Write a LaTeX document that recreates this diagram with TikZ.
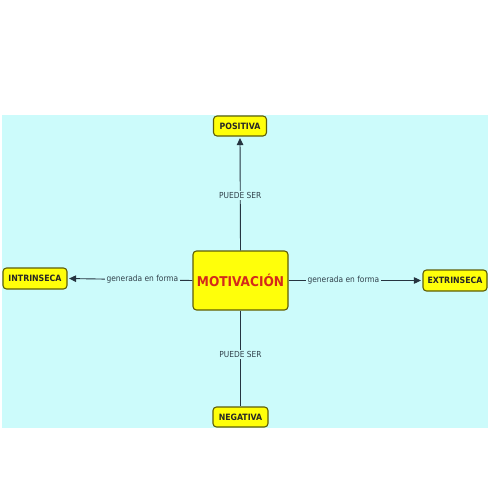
\documentclass[tikz,border=0pt]{standalone}
\usepackage{fontspec}
\setmainfont{DejaVu Sans Condensed}
\usetikzlibrary{arrows.meta}
\definecolor{bgcyan}{HTML}{CCFBFB}
\definecolor{nodeyellow}{HTML}{FFFF0A}
\definecolor{nodeborder}{HTML}{5E5E08}
\definecolor{linecol}{HTML}{263440}
\definecolor{lblcol}{HTML}{30404A}
\definecolor{redtxt}{HTML}{D42A1A}
\tikzset{
  concept/.style={draw=nodeborder, fill=nodeyellow, line width=1.1pt, rounded corners=3.5pt,
    inner sep=0pt, text=black!85, font=\bfseries\fontsize{8.7}{10}\selectfont},
  link/.style={draw=linecol, line width=0.9pt},
  arr/.style={link, -{Triangle[length=7pt,width=6.5pt]}, shorten >=1.5pt},
  lbl/.style={fill=bgcyan, inner sep=1.5pt, text=lblcol, font=\fontsize{8.3}{9}\selectfont}
}
\begin{document}
\begin{tikzpicture}[x=1pt,y=-1pt]
\useasboundingbox (0,0) rectangle (495,495);
\fill[white] (0,0) rectangle (495,495);
\fill[bgcyan] (2,115) rectangle (488,428);
\node[concept, minimum width=53pt, minimum height=20pt] (pos) at (240,126) {POSITIVA};
\node[concept, minimum width=55pt, minimum height=20pt] (neg) at (240.5,417) {NEGATIVA};
\node[concept, minimum width=64pt, minimum height=21pt] (int) at (35,278.5) {INTRINSECA};
\node[concept, minimum width=64pt, minimum height=21pt] (ext) at (455,280.5) {EXTRINSECA};
\node[concept, minimum width=95pt, minimum height=59pt, text=redtxt,
  font=\bfseries\fontsize{13.5}{15}\selectfont] (mot) at (240.5,280.5) {MOTIVACIÓN};
\draw[arr] (mot.north) -- node[lbl, pos=0.48] {PUEDE SER} (pos.south);
\draw[link] (mot.south) -- node[lbl, pos=0.46] {PUEDE SER} (neg.north);
\draw[arr] (mot.west) -- node[lbl, pos=0.4] {generada en forma} (int.east);
\draw[arr] (mot.east) -- node[lbl, pos=0.41] {generada en forma} (ext.west);
\end{tikzpicture}
\end{document}
